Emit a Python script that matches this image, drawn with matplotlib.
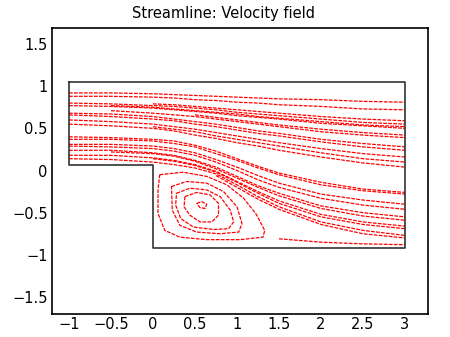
import numpy as np
import matplotlib
matplotlib.use('Agg')
import matplotlib.pyplot as plt

# channel outline (backward-facing step)
wall_x = [-1, 3, 3, 0, 0, -1, -1]
wall_y = [1.05, 1.05, -0.92, -0.92, 0.065, 0.065, 1.05]

# streamlines through the channel: y read at these x stations (nan = not drawn)
x_stations = [-1, -0.5, 0, 0.25, 0.5, 0.75, 1, 1.25, 1.5, 2, 2.5, 3]
nan = np.nan
channel_lines = [
    [0.92, 0.92, 0.91, 0.90, 0.89, 0.88, 0.87, 0.86, 0.85, 0.84, 0.82, 0.81],
    [0.88, 0.88, 0.87, 0.86, 0.84, 0.83, 0.81, 0.80, 0.78, 0.76, 0.73, 0.72],
    [nan, nan, 0.79, 0.78, 0.76, 0.74, 0.72, 0.70, 0.68, 0.64, 0.61, 0.59],
    [0.80, 0.79, 0.77, 0.76, 0.74, 0.72, 0.69, 0.67, 0.65, 0.61, 0.57, 0.55],
    [nan, 0.77, 0.75, 0.73, 0.71, 0.69, 0.67, 0.64, 0.62, 0.58, 0.54, 0.52],
    [0.77, 0.76, 0.74, 0.72, 0.70, 0.68, 0.65, 0.63, 0.61, 0.56, 0.53, 0.50],
    [nan, nan, nan, nan, 0.66, 0.63, 0.60, 0.57, 0.54, 0.49, 0.45, 0.42],
    [nan, 0.71, 0.68, 0.66, 0.64, 0.61, 0.58, 0.55, 0.52, 0.46, 0.42, 0.39],
    [0.68, 0.67, 0.64, 0.61, 0.58, 0.55, 0.51, 0.47, 0.44, 0.37, 0.32, 0.28],
    [0.66, 0.64, 0.61, 0.59, 0.55, 0.52, 0.48, 0.44, 0.41, 0.34, 0.28, 0.24],
    [0.60, 0.58, 0.55, 0.52, 0.49, 0.45, 0.41, 0.37, 0.33, 0.26, 0.20, 0.16],
    [nan, nan, 0.52, 0.49, 0.46, 0.41, 0.37, 0.33, 0.29, 0.21, 0.14, 0.10],
    [0.55, 0.53, 0.50, 0.47, 0.42, 0.38, 0.33, 0.29, 0.24, 0.16, 0.09, 0.04],
    [0.40, 0.39, 0.37, 0.35, 0.30, 0.23, 0.14, 0.05, -0.03, -0.14, -0.22, -0.26],
    [0.37, 0.37, 0.35, 0.32, 0.28, 0.20, 0.12, 0.03, -0.05, -0.17, -0.24, -0.28],
    [0.31, 0.31, 0.29, 0.26, 0.21, 0.13, 0.04, -0.06, -0.15, -0.28, -0.35, -0.40],
    [0.29, 0.28, 0.26, 0.23, 0.18, 0.10, 0.00, -0.11, -0.20, -0.33, -0.41, -0.46],
    [0.24, 0.24, 0.21, 0.18, 0.12, 0.04, -0.07, -0.18, -0.27, -0.42, -0.50, -0.55],
    [nan, 0.22, 0.20, 0.17, 0.11, 0.02, -0.09, -0.20, -0.30, -0.45, -0.54, -0.59],
    [0.18, 0.18, 0.15, 0.12, 0.07, -0.01, -0.13, -0.25, -0.36, -0.52, -0.61, -0.66],
    [nan, nan, 0.14, 0.11, 0.06, -0.02, -0.14, -0.27, -0.39, -0.55, -0.64, -0.69],
    [0.14, 0.13, 0.10, 0.07, 0.03, -0.04, -0.17, -0.31, -0.43, -0.61, -0.71, -0.77],
    [nan, nan, nan, nan, nan, -0.06, -0.20, -0.34, -0.46, -0.64, -0.75, -0.80],
    [nan, nan, nan, nan, nan, nan, nan, nan, -0.81, -0.85, -0.87, -0.88],
]

# recirculation loops behind the step (closed curves, x and y)
loop_outer_x = [0.08, 0.36, 0.64, 0.88, 1.08, 1.23, 1.33, 1.31, 1.04, 0.64, 0.32, 0.14, 0.06, 0.06, 0.08]
loop_outer_y = [-0.05, -0.02, -0.07, -0.17, -0.33, -0.52, -0.71, -0.79, -0.82, -0.82, -0.79, -0.71, -0.51, -0.23, -0.05]
loop_2_x = [0.22, 0.40, 0.64, 0.84, 1.00, 1.06, 1.02, 0.80, 0.52, 0.32, 0.23, 0.22]
loop_2_y = [-0.19, -0.13, -0.15, -0.25, -0.43, -0.63, -0.73, -0.75, -0.73, -0.65, -0.47, -0.19]
loop_3_x = [0.28, 0.44, 0.64, 0.80, 0.92, 0.96, 0.90, 0.72, 0.48, 0.33, 0.27, 0.28]
loop_3_y = [-0.27, -0.21, -0.23, -0.31, -0.47, -0.61, -0.69, -0.70, -0.67, -0.57, -0.41, -0.27]
loop_4_x = [0.38, 0.52, 0.68, 0.78, 0.78, 0.70, 0.56, 0.44, 0.37, 0.38]
loop_4_y = [-0.31, -0.26, -0.29, -0.39, -0.53, -0.61, -0.61, -0.53, -0.43, -0.31]
loop_5_x = [0.52, 0.58, 0.64, 0.62, 0.56, 0.52]
loop_5_y = [-0.39, -0.37, -0.40, -0.45, -0.44, -0.39]

x_ticks = [-1, -0.5, 0, 0.5, 1, 1.5, 2, 2.5, 3]
y_ticks = [-1.5, -1, -0.5, 0, 0.5, 1, 1.5]


def fmt(v):
    return ('%g' % v).replace('-', '\u2212')


def main():
    fig = plt.figure(figsize=(4.5, 3.37), dpi=100)
    ax = fig.add_axes([0.1156, 0.0682, 0.8355, 0.8487])

    line_style = dict(color='#ff0000', lw=0.9, ls=(0, (3, 1)))
    for ys in channel_lines:
        ax.plot(x_stations, ys, **line_style)

    loops = [(loop_outer_x, loop_outer_y), (loop_2_x, loop_2_y), (loop_3_x, loop_3_y),
             (loop_4_x, loop_4_y), (loop_5_x, loop_5_y)]
    for lx, ly in loops:
        ax.plot(lx, ly, **line_style)

    ax.plot(wall_x, wall_y, color='#333333', lw=1.2)

    ax.set_xlim(-1.202, 3.274)
    ax.set_ylim(-1.702, 1.690)
    ax.set_xticks(x_ticks)
    ax.set_yticks(y_ticks)
    ax.set_xticklabels([fmt(v) for v in x_ticks])
    ax.set_yticklabels([fmt(v) for v in y_ticks])
    ax.tick_params(length=0, labelsize=10.5)
    ax.tick_params(axis='x', pad=2)
    ax.tick_params(axis='y', pad=3)
    for s in ax.spines.values():
        s.set_linewidth(1.2)
        s.set_color('black')
    ax.set_title('Streamline: Velocity field', fontsize=10.5, x=0.457, pad=7)

    fig.savefig('out.png', dpi=100)


if __name__ == '__main__':
    main()
